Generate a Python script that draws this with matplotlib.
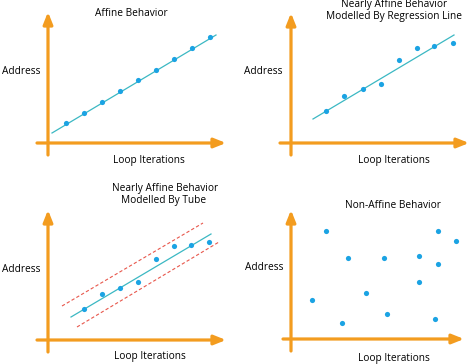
import matplotlib.pyplot as plt

plt.rcParams['font.family'] = ['Open Sans', 'DejaVu Sans']

W, H = 474, 364
orange = '#F39C1F'
blue = '#1BA3E3'
teal = '#3BB8C3'
red = '#E8574C'

# panel 1: affine
p1_x = [18, 36, 54, 72, 90, 108, 126, 144, 162]
p1_y = [20, 30, 41, 52, 63, 73, 84, 95, 106]
p1_line_x = [4, 168]
p1_line_y = [10, 108]

# panel 2: regression line
p2_x = [35, 53, 72, 90, 108, 126, 143, 162]
p2_y = [32, 47, 54, 59, 83, 95, 97, 100]
p2_line_x = [22, 163]
p2_line_y = [24, 108]

# panel 3: tube
p3_x = [36, 54, 72, 90, 108, 126, 143, 161]
p3_y = [31, 46, 52, 58, 81, 94, 95, 98]
p3_line_x = [23, 163]
p3_line_y = [23, 106]
p3_upper_x = [14, 155]
p3_upper_y = [34, 117]
p3_lower_x = [29, 171]
p3_lower_y = [13, 98]

# panel 4: non-affine
p4_x = [35, 147, 165, 57, 93, 128, 147, 128, 75, 21, 96, 144, 51]
p4_y = [108, 108, 98, 81, 81, 83, 75, 57, 46, 39, 25, 20, 16]

fig = plt.figure(figsize=(W / 100, H / 100), dpi=100)


def panel(ox, oy, xtip, ytip, xtail=-11, ytail=-12):
    # axes in pixel-sized units, origin at the crossing of the arrows
    x0, x1, y0, y1 = -60, 190, -25, 160
    ax = fig.add_axes([(ox + x0) / W, (H - oy + y0) / H, (x1 - x0) / W, (y1 - y0) / H])
    ax.set_xlim(x0, x1)
    ax.set_ylim(y0, y1)
    ax.axis('off')
    style = dict(arrowstyle='-|>,head_length=1.0,head_width=0.4', lw=2.3,
                 color=orange, shrinkA=0, shrinkB=0, mutation_scale=7)
    ax.annotate('', xy=(xtip, 0), xytext=(xtail, 0), arrowprops=style)
    ax.annotate('', xy=(0, ytip), xytext=(0, ytail), arrowprops=style)
    return ax


fs = 7.3

ax1 = panel(48, 143, 178, 131)
ax1.plot(p1_line_x, p1_line_y, color=teal, lw=0.9)
ax1.scatter(p1_x, p1_y, s=14, color=blue, zorder=3, linewidths=0)
ax1.text(83, 129, 'Affine Behavior', ha='center', va='center', fontsize=fs)
ax1.text(-46, 72, 'Address', ha='left', va='center', fontsize=fs)
ax1.text(101, -17, 'Loop Iterations', ha='center', va='center', fontsize=fs)

ax2 = panel(291, 143, 178, 130)
ax2.plot(p2_line_x, p2_line_y, color=teal, lw=0.9)
ax2.scatter(p2_x, p2_y, s=14, color=blue, zorder=3, linewidths=0)
ax2.text(103, 139, 'Nearly Affine Behavior', ha='center', va='center', fontsize=fs)
ax2.text(103, 126, 'Modelled By Regression Line', ha='center', va='center', fontsize=fs)
ax2.text(-47, 72, 'Address', ha='left', va='center', fontsize=fs)
ax2.text(103, -17, 'Loop Iterations', ha='center', va='center', fontsize=fs)

ax3 = panel(48, 340, 178, 130)
ax3.plot(p3_line_x, p3_line_y, color=teal, lw=0.9)
ax3.plot(p3_upper_x, p3_upper_y, color=red, lw=0.8, ls=(0, (3, 2)))
ax3.plot(p3_lower_x, p3_lower_y, color=red, lw=0.8, ls=(0, (3, 2)))
ax3.scatter(p3_x, p3_y, s=14, color=blue, zorder=3, linewidths=0)
ax3.text(117, 152, 'Nearly Affine Behavior', ha='center', va='center', fontsize=fs)
ax3.text(116, 140, 'Modelled By Tube', ha='center', va='center', fontsize=fs)
ax3.text(-46, 71, 'Address', ha='left', va='center', fontsize=fs)
ax3.text(102, -16, 'Loop Iterations', ha='center', va='center', fontsize=fs)

ax4 = panel(291, 339, 173, 129, xtail=-8)
ax4.scatter(p4_x, p4_y, s=14, color=blue, zorder=3, linewidths=0)
ax4.text(102, 134, 'Non-Affine Behavior', ha='center', va='center', fontsize=fs)
ax4.text(-46, 72, 'Address', ha='left', va='center', fontsize=fs)
ax4.text(103, -20, 'Loop Iterations', ha='center', va='center', fontsize=fs)

fig.savefig('out.png', dpi=100)
